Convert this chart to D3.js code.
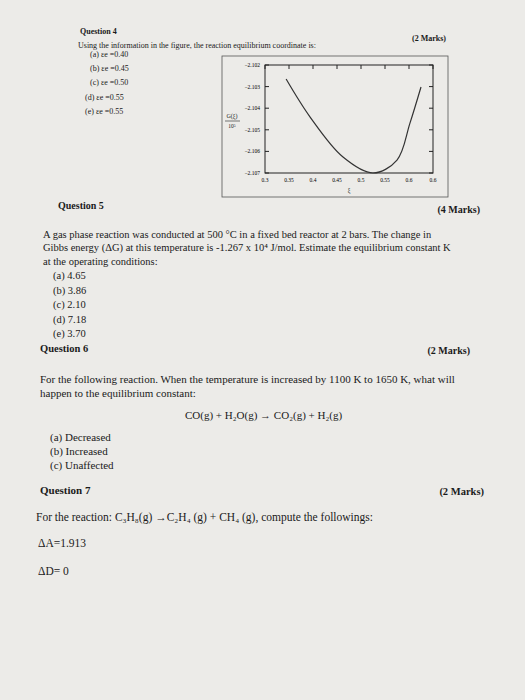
<!DOCTYPE html><html><head><meta charset="utf-8">
<script src="https://cdn.jsdelivr.net/npm/d3@7"></script>
<style>body{margin:0;background:#ecebe8;}svg{font-family:"Liberation Serif",serif;}</style></head><body>
<svg id="s" width="525" height="700"></svg>
<script>
const xTicks=[0.3,0.35,0.4,0.45,0.5,0.55,0.6,0.65];
const xTickLabels=["0.3","0.35","0.4","0.45","0.5","0.55","0.6","0.6"];
const yTicks=[-2.102,-2.103,-2.104,-2.105,-2.106,-2.107];
const curveX=[0.344,0.394,0.4625,0.525,0.575,0.602,0.625];
const curveY=[-2.10265,-2.10441,-2.10626,-2.1070,-2.1064,-2.10469,-2.10302];
const svg=d3.select("#s");
svg.append("rect").attr("width",525).attr("height",700).attr("fill","#ecebe8");
function t(x,y,s,o={}){const e=svg.append("text").attr("x",x).attr("y",y).attr("font-size",o.size||12).attr("fill","#1a1a1a").text(s);
 if(o.bold)e.attr("font-weight","bold");if(o.anchor)e.attr("text-anchor",o.anchor);return e;}
t(80,34,"Question 4",{bold:1,size:8});
t(78,48,"Using the information in the figure, the reaction equilibrium coordinate is:",{size:8});
t(446,41,"(2 Marks)",{bold:1,size:8,anchor:"end"});
["(a) \u03b5e =0.40","(b) \u03b5e =0.45","(c) \u03b5e =0.50","(d) \u03b5e =0.55","(e) \u03b5e =0.55"].forEach((s,i)=>t(i<3?90:85,i*14+57+ (i>2?1:0),s,{size:8}));
// chart
svg.append("rect").attr("x",222).attr("y",56).attr("width",226).attr("height",141).attr("fill","none").attr("stroke","#555").attr("stroke-width",0.8);
const x=d3.scaleLinear().domain([0.3,0.65]).range([265,433]);
const y=d3.scaleLinear().domain([-2.102,-2.107]).range([65,173]);
const g=svg.append("g");
g.append("rect").attr("x",265).attr("y",65).attr("width",168).attr("height",108).attr("fill","none").attr("stroke","#222");
xTicks.forEach((v,i)=>{g.append("line").attr("x1",x(v)).attr("x2",x(v)).attr("y1",65).attr("y2",69).attr("stroke","#222");
 g.append("text").attr("x",x(v)).attr("y",182).attr("text-anchor","middle").attr("font-size",5.5).text(xTickLabels[i]);});
yTicks.forEach(v=>{g.append("line").attr("x1",265).attr("x2",269).attr("y1",y(v)).attr("y2",y(v)).attr("stroke","#222");
 g.append("line").attr("x1",433).attr("x2",429).attr("y1",y(v)).attr("y2",y(v)).attr("stroke","#222");
 g.append("text").attr("x",260).attr("y",y(v)+2).attr("text-anchor","end").attr("font-size",5.5).text(v.toFixed(3).replace("-","\u2212"));});
g.append("path").datum(curveX.map((v,i)=>[v,curveY[i]])).attr("fill","none").attr("stroke","#333").attr("stroke-width",1.2)
 .attr("d",d3.line().x(d=>x(d[0])).y(d=>y(d[1])).curve(d3.curveCatmullRom));
t(232,118,"G(\u03be)",{size:6,anchor:"middle"});
svg.append("line").attr("x1",225).attr("x2",240).attr("y1",121).attr("y2",121).attr("stroke","#222").attr("stroke-width",0.6);
t(232,128,"10\u2075",{size:5.5,anchor:"middle"});
t(349,192,"\u03be",{size:6,anchor:"middle"});
// Q5
t(58,209,"Question 5",{bold:1,size:10});
t(480,213,"(4 Marks)",{bold:1,size:10,anchor:"end"});
t(43,238,"A gas phase reaction was conducted at 500 \u00b0C in a fixed bed reactor at 2 bars. The change in",{size:10.5});
t(43,251,"Gibbs energy (\u0394G) at this temperature is -1.267 x 10\u2074 J/mol. Estimate the equilibrium constant K",{size:10.5});
t(43,265,"at the operating conditions:",{size:10.5});
["(a) 4.65","(b) 3.86","(c) 2.10","(d) 7.18","(e) 3.70"].forEach((s,i)=>t(53,279+i*14.5,s,{size:10.5}));
t(40,352,"Question 6",{bold:1,size:10.5});
t(470,354,"(2 Marks)",{bold:1,size:10,anchor:"end"});
t(40,383,"For the following reaction. When the temperature is increased by 1100 K to 1650 K, what will",{size:11});
t(40,397,"happen to the equilibrium constant:",{size:11});
t(185,419,"CO(g) + H\u2082O(g) \u2192 CO\u2082(g) + H\u2082(g)",{size:11});
["(a) Decreased","(b) Increased","(c) Unaffected"].forEach((s,i)=>t(50,441+i*14,s,{size:11}));
t(40,494,"Question 7",{bold:1,size:11});
t(484,495,"(2 Marks)",{bold:1,size:10.5,anchor:"end"});
t(36,521,"For the reaction: C\u2083H\u2088(g) \u2192C\u2082H\u2084 (g) + CH\u2084 (g), compute the followings:",{size:11.5});
t(38,547,"\u0394A=1.913",{size:11.5});
t(38,575,"\u0394D= 0",{size:11.5});
</script></body></html>
